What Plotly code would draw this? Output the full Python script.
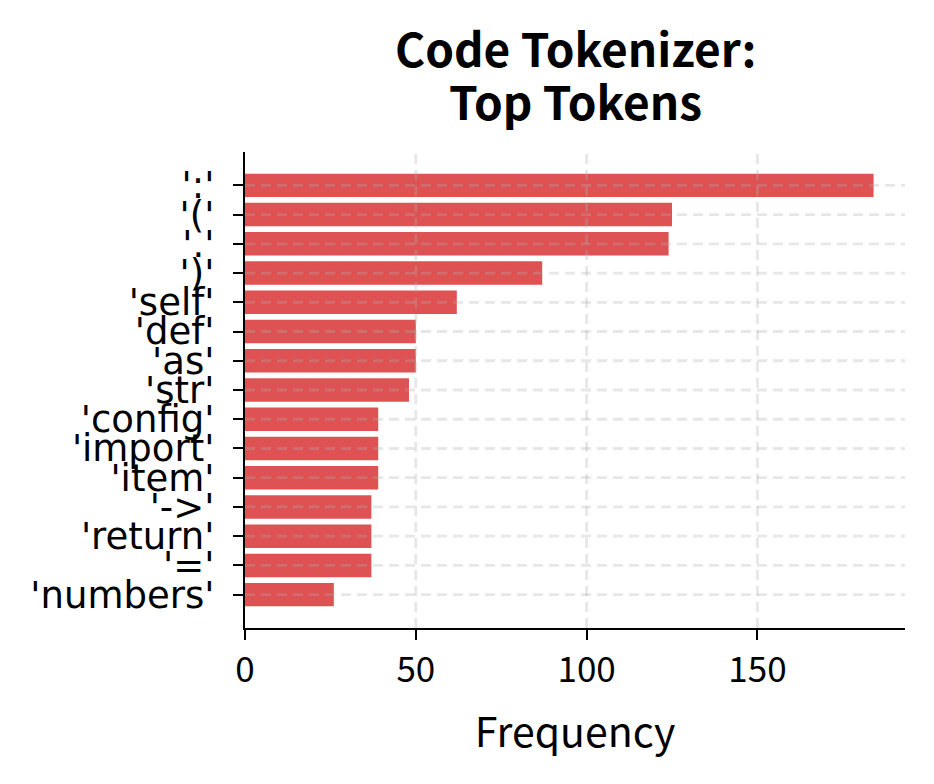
import plotly.graph_objects as go

tokens = ["':'", "'('", "'.'", "')'", "'self'", "'def'", "'as'", "'str'",
          "'config'", "'import'", "'item'", "'->'", "'return'", "'='", "'numbers'"]
counts = [184, 125, 124, 87, 62, 50, 50, 48, 39, 39, 39, 37, 37, 37, 26]
x_ticks = [0, 50, 100, 150]

title_lines = ["Code Tokenizer:", "Top Tokens"]
x_label = "Frequency"

bar_color = "rgba(214,39,40,0.8)"
grid_color = "rgba(176,176,176,0.3)"
cjk = "Noto Sans CJK JP"

W, H = 934, 784
M_L, M_R, M_T, M_B = 245, 29, 152, 156
plot_h = H - M_T - M_B

fig = go.Figure()
fig.add_trace(go.Bar(
    x=counts, y=tokens, orientation="h", width=0.8,
    marker=dict(color=bar_color, line=dict(width=0)),
    hoverinfo="x+y",
))

xmax = max(counts) * 1.05
n = len(tokens)

shapes = []
for v in x_ticks:
    if v == 0:
        continue
    shapes.append(dict(type="line", xref="x", yref="paper", x0=v, x1=v, y0=0, y1=1,
                       line=dict(color=grid_color, width=2.8, dash="10px,6px"), layer="above"))
for t in tokens:
    shapes.append(dict(type="line", xref="paper", yref="y", x0=0, x1=1, y0=t, y1=t,
                       line=dict(color=grid_color, width=2.8, dash="10px,6px"), layer="above"))

annotations = []
for i, line in enumerate(title_lines):
    ypx = 47 + 53 * i
    annotations.append(dict(
        text="<b>" + line + "</b>", x=0.5, xref="paper",
        y=(H - M_B - ypx) / plot_h, yref="paper",
        xanchor="center", yanchor="middle", showarrow=False,
        font=dict(family=cjk, size=46, color="black"),
    ))

fig.update_layout(
    width=W, height=H,
    margin=dict(l=M_L, r=M_R, t=M_T, b=M_B, pad=0),
    plot_bgcolor="white", paper_bgcolor="white",
    showlegend=False,
    shapes=shapes,
    annotations=annotations,
    bargap=0.2,
)
fig.update_xaxes(
    range=[0, xmax], tickmode="array", tickvals=x_ticks, ticktext=[str(v) for v in x_ticks],
    showgrid=False, zeroline=False,
    showline=True, linecolor="black", linewidth=2.4,
    ticks="outside", ticklen=10, tickwidth=2.4, tickcolor="black",
    tickfont=dict(family=cjk, size=35, color="black"),
    title=dict(text=x_label, font=dict(family=cjk, size=41, color="black"), standoff=27),
)
fig.update_yaxes(
    type="category", categoryorder="array", categoryarray=tokens,
    tickmode="array", tickvals=tokens, ticktext=tokens,
    range=[n - 1 + 1.14, -1.14],
    showgrid=False, zeroline=False,
    showline=True, linecolor="black", linewidth=2.4,
    ticks="outside", ticklen=10, tickwidth=2.4, tickcolor="black",
    tickfont=dict(family="DejaVu Sans", size=37, color="black"),
    ticklabelstandoff=11,
)

fig.write_html("out.html")
